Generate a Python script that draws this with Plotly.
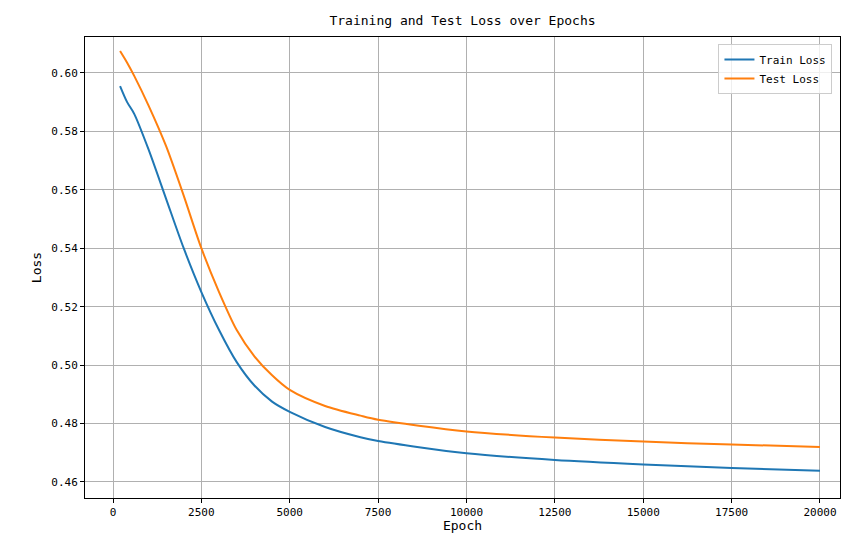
import plotly.graph_objects as go

epochs = [200, 400, 600, 1000, 1500, 2000, 2500, 3000, 3500, 4000, 4500, 5000, 6000, 7000, 7500, 10000, 12500, 15000, 17500, 20000]
train_loss = [0.5955, 0.5900, 0.5860, 0.5740, 0.5570, 0.5400, 0.5250, 0.5120, 0.5010, 0.4930, 0.4875, 0.4840, 0.4788, 0.4753, 0.4740, 0.4698, 0.4675, 0.4660, 0.4648, 0.4638]
test_loss = [0.6075, 0.6035, 0.5990, 0.5890, 0.5750, 0.5580, 0.5400, 0.5250, 0.5120, 0.5030, 0.4965, 0.4915, 0.4860, 0.4827, 0.4813, 0.4773, 0.4752, 0.4738, 0.4728, 0.4720]
x_ticks = [0, 2500, 5000, 7500, 10000, 12500, 15000, 17500, 20000]
y_ticks = [0.46, 0.48, 0.50, 0.52, 0.54, 0.56, 0.58, 0.60]

font = "DejaVu Sans Mono"
fig = go.Figure()
fig.add_trace(go.Scatter(x=epochs, y=train_loss, mode="lines", name="Train Loss", line=dict(color="#1f77b4", width=2, shape="spline", smoothing=0.8)))
fig.add_trace(go.Scatter(x=epochs, y=test_loss, mode="lines", name="Test Loss", line=dict(color="#ff7f0e", width=2, shape="spline", smoothing=0.8)))
axis = dict(showgrid=True, gridcolor="#b0b0b0", gridwidth=1, showline=True, mirror=True, linecolor="black",
            ticks="outside", ticklen=4, tickcolor="black", zeroline=False, tickfont=dict(size=11, color="black"))
fig.update_layout(
    width=834, height=525, plot_bgcolor="white", paper_bgcolor="white",
    font=dict(family=font, size=11, color="black"),
    margin=dict(l=77, r=2, t=29, b=35),
    title=dict(text="Training and Test Loss over Epochs", x=0.545, xanchor="center", y=0.985, yanchor="top", font=dict(size=13)),
    xaxis=dict(axis, range=[-792, 20566], tickvals=x_ticks, ticktext=[str(v) for v in x_ticks],
               title=dict(text="Epoch", standoff=4)),
    yaxis=dict(axis, range=[0.4545, 0.6123], tickvals=y_ticks, ticktext=[f"{v:.2f}" for v in y_ticks],
               title=dict(text="Loss", standoff=6)),
    legend=dict(x=0.99, y=0.985, xanchor="right", yanchor="top", bordercolor="#cccccc", borderwidth=1,
                bgcolor="rgba(255,255,255,0.8)", font=dict(size=11)),
)
fig.write_html("out.html")
